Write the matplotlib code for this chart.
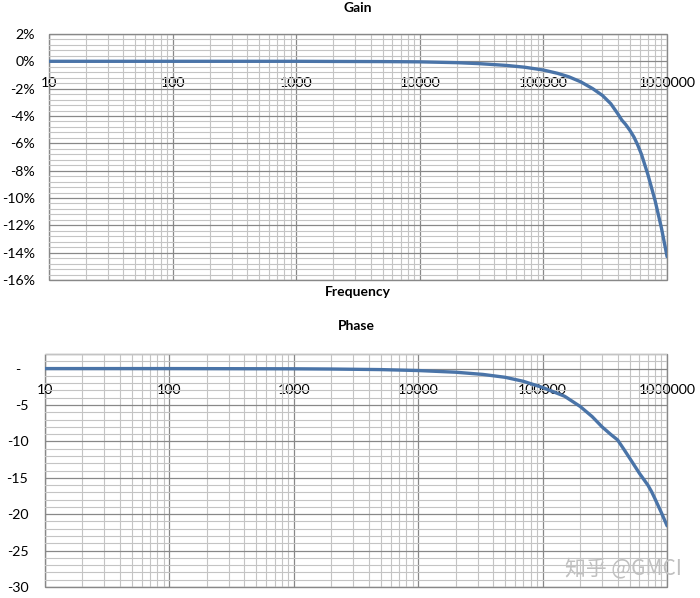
import numpy as np
import matplotlib
matplotlib.use('Agg')
import matplotlib.pyplot as plt
from matplotlib.ticker import MultipleLocator, LogLocator, NullFormatter, FuncFormatter, FixedLocator
from matplotlib.patches import Rectangle

# ---- data ----
gain_freq = [10, 100, 1000, 2000, 5000, 10000, 20000, 30000, 50000, 70000,
             100000, 130000, 160000, 200000, 250000, 300000, 350000, 400000,
             430000, 460000, 500000, 540000, 580000, 620000, 700000, 800000,
             900000, 1000000]
gain_pct = [0.0, 0.0, 0.0, -0.01, -0.02, -0.04, -0.1, -0.17, -0.3, -0.43,
            -0.64, -0.88, -1.13, -1.5, -2.0, -2.5, -3.1, -3.85,
            -4.3, -4.6, -5.05, -5.55, -6.15, -6.8, -8.3, -10.2,
            -12.2, -14.3]

phase_freq = [10, 100, 1000, 2000, 5000, 10000, 20000, 33000, 50000, 70000,
              100000, 150000, 200000, 250000, 300000, 350000, 400000, 450000,
              500000, 600000, 700000, 750000, 800000, 900000, 1000000]
phase_deg = [0.0, 0.0, -0.03, -0.06, -0.14, -0.27, -0.5, -0.8, -1.2, -1.75,
             -2.6, -3.8, -5.2, -6.6, -8.0, -9.0, -9.8, -11.1,
             -12.3, -14.4, -16.0, -16.9, -17.9, -19.8, -21.6]

x_ticks = [10, 100, 1000, 10000, 100000, 1000000]
x_tick_labels = ['10', '100', '1000', '10000', '100000', '1000000']

gain_yticks = list(range(-16, 3, 2))
phase_yticks = list(range(-30, 1, 5))

# ---- style ----
plt.rcParams['font.family'] = ['Lato', 'DejaVu Sans']
LINE = '#4a74a8'
MAJ = '#888888'
MIN = '#c4c4c4'
FS = 10.2

fig = plt.figure(figsize=(7.0, 5.98), dpi=100)
ax1 = fig.add_axes([0.070, 0.5318, 0.883, 0.4114])
ax2 = fig.add_axes([0.0643, 0.0184, 0.8887, 0.3896])


def style(ax, ylim, yticks, yminor, yfmt, ypad):
    ax.set_xscale('log')
    ax.set_xlim(10, 1000000)
    ax.set_ylim(*ylim)
    ax.xaxis.set_major_locator(FixedLocator(x_ticks))
    ax.set_xticklabels(x_tick_labels)
    ax.xaxis.set_minor_locator(LogLocator(base=10, subs=np.arange(2, 10)))
    ax.xaxis.set_minor_formatter(NullFormatter())
    ax.yaxis.set_major_locator(FixedLocator(yticks))
    ax.yaxis.set_minor_locator(MultipleLocator(yminor))
    ax.yaxis.set_major_formatter(FuncFormatter(yfmt))
    ax.grid(which='major', color=MAJ, linewidth=0.9)
    ax.grid(which='minor', color=MIN, linewidth=0.8)
    ax.set_axisbelow(True)
    for s in ax.spines.values():
        s.set_visible(False)
    ax.spines['bottom'].set_position(('data', 0))
    ax.tick_params(axis='both', which='both', length=0, labelsize=FS)
    ax.tick_params(axis='x', pad=11)
    ax.tick_params(axis='y', pad=ypad)
    ax.add_patch(Rectangle((0, 0), 1, 1, transform=ax.transAxes, fill=False,
                           edgecolor=MAJ, linewidth=1.0, clip_on=False, zorder=0.5))


style(ax1, (-16, 2), gain_yticks, 0.4, lambda v, p: f'{v:.0f}%', 10)
ax1.plot(gain_freq, gain_pct, color=LINE, linewidth=2.4, solid_capstyle='round',
         solid_joinstyle='round', zorder=3)
ax1.set_title('Gain', fontsize=10, fontweight='bold', pad=16)
ax1.set_xlabel('Frequency', fontsize=10, fontweight='bold')
ax1.xaxis.set_label_coords(0.5, -0.026)

style(ax2, (-30, 2), phase_yticks, 1, lambda v, p: '-  ' if v == 0 else f'{v:.0f}', 12)
ax2.plot(phase_freq, phase_deg, color=LINE, linewidth=2.4, solid_capstyle='round',
         solid_joinstyle='round', zorder=3)
ax2.set_title('Phase', fontsize=10, fontweight='bold', pad=17)

fig.text(0.807, 0.05, '知乎 @GMCI', fontsize=15, color='#c0c0c0',
         family=['Noto Sans CJK SC', 'DejaVu Sans'], ha='left', va='center')

fig.savefig('out.png', dpi=100)
